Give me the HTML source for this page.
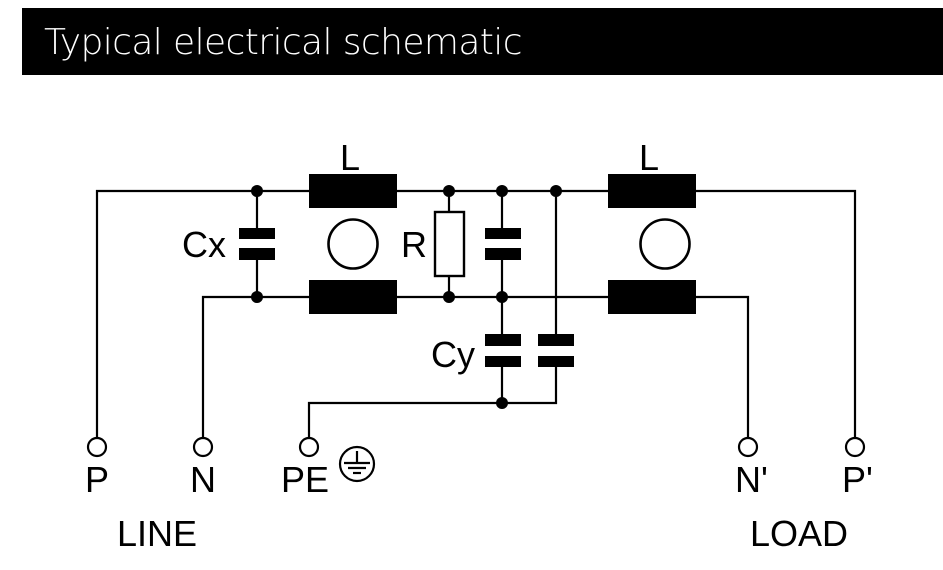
<!DOCTYPE html>
<html><head><meta charset="utf-8"><style>
body{margin:0;width:943px;height:570px;background:#fff;overflow:hidden;position:relative;font-family:"Liberation Sans",sans-serif}
.hdr{position:absolute;left:22px;top:8px;width:921px;height:67px;background:#000;color:#fff;font-size:36px;line-height:70px;padding-left:22px;box-sizing:border-box;font-family:"DejaVu Sans","Liberation Sans",sans-serif;font-weight:300;letter-spacing:-0.6px}
svg{position:absolute;left:0;top:0}
svg text{font-family:"Liberation Sans",Arial,sans-serif;font-size:36px;fill:#000}
</style></head><body>
<div class="hdr">Typical electrical schematic</div>
<svg width="943" height="570" viewBox="0 0 943 570">
<g stroke="#000" stroke-width="2.2" fill="none">
<polyline points="97,437 97,191 855,191 855,437"/>
<polyline points="203,437 203,297 748,297 748,437"/>
<polyline points="309,437 309,403 556,403 556,191"/>
<line x1="257" y1="191" x2="257" y2="297"/>
<line x1="449" y1="191" x2="449" y2="297"/>
<line x1="502" y1="191" x2="502" y2="403"/>
<circle cx="97" cy="447" r="9"/>
<circle cx="203" cy="447" r="9"/>
<circle cx="309" cy="447" r="9"/>
<circle cx="748" cy="447" r="9"/>
<circle cx="855" cy="447" r="9"/>
<circle cx="353" cy="244" r="24.5" stroke-width="2.6"/>
<circle cx="665" cy="244" r="24.5" stroke-width="2.6"/>
<circle cx="357" cy="464" r="17"/>
<line x1="357" y1="451" x2="357" y2="463"/>
<line x1="344" y1="463" x2="370" y2="463"/>
<line x1="348" y1="468" x2="366" y2="468"/>
<line x1="353" y1="473" x2="361" y2="473"/>
</g>
<rect x="435" y="212" width="29" height="64" fill="#fff" stroke="#000" stroke-width="2.4"/>
<g fill="#fff">
<rect x="239" y="239" width="36" height="9"/>
<rect x="485" y="239" width="36" height="9"/>
<rect x="485" y="346" width="36" height="10"/>
<rect x="538" y="346" width="36" height="10"/>
</g>
<g fill="#000">
<rect x="309" y="174" width="88" height="34"/>
<rect x="309" y="280" width="88" height="34"/>
<rect x="608" y="174" width="88" height="34"/>
<rect x="608" y="280" width="88" height="34"/>
<rect x="239" y="228" width="36" height="11"/>
<rect x="239" y="248" width="36" height="12"/>
<rect x="485" y="228" width="36" height="11"/>
<rect x="485" y="248" width="36" height="12"/>
<rect x="485" y="334" width="36" height="12"/>
<rect x="485" y="356" width="36" height="11"/>
<rect x="538" y="334" width="36" height="12"/>
<rect x="538" y="356" width="36" height="11"/>
<circle cx="257" cy="191" r="6"/><circle cx="449" cy="191" r="6"/><circle cx="502" cy="191" r="6"/><circle cx="556" cy="191" r="6"/>
<circle cx="257" cy="297" r="6"/><circle cx="449" cy="297" r="6"/><circle cx="502" cy="297" r="6"/>
<circle cx="502" cy="403" r="6"/>
</g>
<text x="340" y="170">L</text>
<text x="639" y="170">L</text>
<text x="182" y="257">Cx</text>
<text x="401" y="257">R</text>
<text x="431" y="367">Cy</text>
<text x="85" y="492">P</text>
<text x="190" y="492">N</text>
<text x="281" y="492">PE</text>
<text x="735" y="492">N'</text>
<text x="842" y="492">P'</text>
<text x="117" y="546">LINE</text>
<text x="750" y="546">LOAD</text>
</svg>
</body></html>
